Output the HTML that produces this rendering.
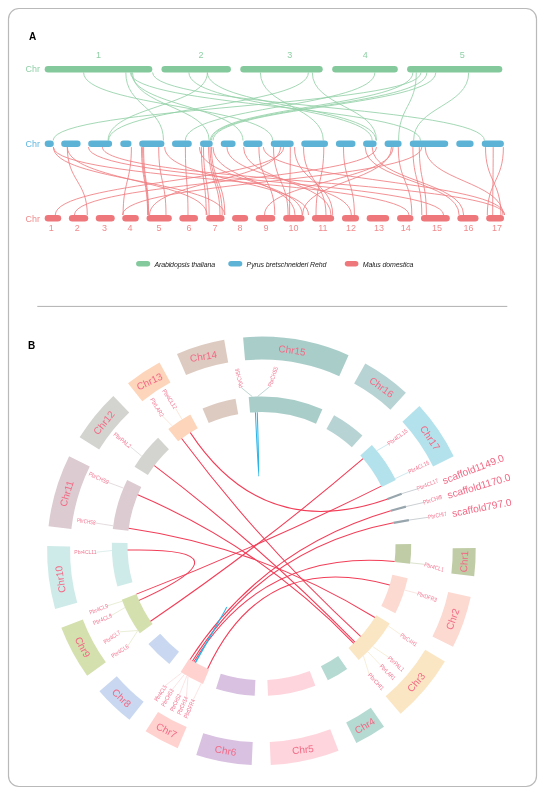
<!DOCTYPE html>
<html><head><meta charset="utf-8"><style>
html,body{margin:0;padding:0;background:#fff;width:550px;height:793px;overflow:hidden}
svg{display:block}
</style></head><body>
<svg width="550" height="793" viewBox="0 0 550 793">
<rect x="0" y="0" width="550" height="793" fill="#fff"/>
<rect x="8.5" y="8.5" width="528" height="778" rx="10.5" fill="#fff" stroke="#b9b9b9" stroke-width="1.2"/>
<text x="29" y="40.3" font-family='"Liberation Sans", Arial, sans-serif' font-size="10" font-weight="bold" fill="#000">A</text>
<text x="28" y="348.5" font-family='"Liberation Sans", Arial, sans-serif' font-size="10" font-weight="bold" fill="#000">B</text>
<line x1="37.3" y1="306.4" x2="507.3" y2="306.4" stroke="#b0b0b0" stroke-width="1"/>
<g fill="none" stroke="#93d1a8" stroke-width="0.85">
<path d="M83.6,72.5C83.6,106.5 272.7,106.5 272.7,140.5"/>
<path d="M125.8,72.5C125.8,106.5 163.5,106.5 163.5,140.5"/>
<path d="M130.4,72.5C130.4,106.5 420.5,106.5 420.5,140.5"/>
<path d="M131.5,72.5C131.5,106.5 243.0,106.5 243.0,140.5"/>
<path d="M132.5,72.5C132.5,106.5 209.2,106.5 209.2,140.5"/>
<path d="M152.6,72.5C152.6,106.5 484.5,106.5 484.5,140.5"/>
<path d="M188.9,72.5C188.9,106.5 372.2,106.5 372.2,140.5"/>
<path d="M207.4,72.5C207.4,106.5 108.1,106.5 108.1,140.5"/>
<path d="M207.4,72.5C207.4,106.5 376.0,106.5 376.0,140.5"/>
<path d="M260.4,72.5C260.4,106.5 323.3,106.5 323.3,140.5"/>
<path d="M308.4,72.5C308.4,106.5 108.6,106.5 108.6,140.5"/>
<path d="M312.3,72.5C312.3,106.5 376.5,106.5 376.5,140.5"/>
<path d="M374.9,72.5C374.9,106.5 185.3,106.5 185.3,140.5"/>
<path d="M412.9,72.5C412.9,106.5 210.3,106.5 210.3,140.5"/>
<path d="M416.3,72.5C416.3,106.5 398.6,106.5 398.6,140.5"/>
<path d="M426.9,72.5C426.9,106.5 211.4,106.5 211.4,140.5"/>
<path d="M435.8,72.5C435.8,106.5 213.0,106.5 213.0,140.5"/>
<path d="M468.7,72.5C468.7,106.5 413.6,106.5 413.6,140.5"/>
<path d="M421.0,72.5C421.0,106.5 53.1,106.5 53.1,140.5"/>
</g>
<g fill="none" stroke="#f07e82" stroke-width="0.85">
<path d="M67.3,147.1C67.3,181.1 87.3,181.1 87.3,215.0"/>
<path d="M131.4,147.1C131.4,181.1 123.1,181.1 123.1,215.0"/>
<path d="M141.5,147.1C141.5,181.1 147.6,181.1 147.6,215.0"/>
<path d="M142.6,147.1C142.6,181.1 148.1,181.1 148.1,215.0"/>
<path d="M143.6,147.1C143.6,181.1 148.6,181.1 148.6,215.0"/>
<path d="M158.7,147.1C158.7,181.1 166.0,181.1 166.0,215.0"/>
<path d="M185.4,147.1C185.4,181.1 188.0,181.1 188.0,215.0"/>
<path d="M201.4,147.1C201.4,181.1 206.2,181.1 206.2,215.0"/>
<path d="M203.5,147.1C203.5,181.1 209.1,181.1 209.1,215.0"/>
<path d="M208.6,147.1C208.6,181.1 220.0,181.1 220.0,215.0"/>
<path d="M210.1,147.1C210.1,181.1 222.2,181.1 222.2,215.0"/>
<path d="M211.5,147.1C211.5,181.1 224.8,181.1 224.8,215.0"/>
<path d="M258.9,147.1C258.9,181.1 274.8,181.1 274.8,215.0"/>
<path d="M273.5,147.1C273.5,181.1 288.1,181.1 288.1,215.0"/>
<path d="M290.3,147.1C290.3,181.1 289.6,181.1 289.6,215.0"/>
<path d="M323.8,147.1C323.8,181.1 316.0,181.1 316.0,215.0"/>
<path d="M343.5,147.1C343.5,181.1 354.4,181.1 354.4,215.0"/>
<path d="M398.3,147.1C398.3,181.1 411.8,181.1 411.8,215.0"/>
<path d="M412.9,147.1C412.9,181.1 421.8,181.1 421.8,215.0"/>
<path d="M419.3,147.1C419.3,181.1 426.4,181.1 426.4,215.0"/>
<path d="M485.5,147.1C485.5,181.1 500.9,181.1 500.9,215.0"/>
<path d="M493.2,147.1C493.2,181.1 492.7,181.1 492.7,215.0"/>
<path d="M503.4,147.1C503.4,181.1 487.3,181.1 487.3,215.0"/>
<path d="M53.4,147.1C53.4,181.1 224.5,181.1 224.5,215.0"/>
<path d="M53.4,147.1C53.4,181.1 409.0,181.1 409.0,215.0"/>
<path d="M67.4,147.1C67.4,181.1 207.0,181.1 207.0,215.0"/>
<path d="M88.4,147.1C88.4,181.1 443.6,181.1 443.6,215.0"/>
<path d="M102.4,147.1C102.4,181.1 504.5,181.1 504.5,215.0"/>
<path d="M213.0,147.1C213.0,181.1 295.0,181.1 295.0,215.0"/>
<path d="M227.0,147.1C227.0,181.1 351.3,181.1 351.3,215.0"/>
<path d="M243.6,147.1C243.6,181.1 331.0,181.1 331.0,215.0"/>
<path d="M263.4,147.1C263.4,181.1 504.5,181.1 504.5,215.0"/>
<path d="M303.5,147.1C303.5,181.1 326.0,181.1 326.0,215.0"/>
<path d="M365.2,147.1C365.2,181.1 459.1,181.1 459.1,215.0"/>
<path d="M372.2,147.1C372.2,181.1 463.6,181.1 463.6,215.0"/>
<path d="M294.5,147.1C294.5,181.1 332.7,181.1 332.7,215.0"/>
<path d="M199.5,147.1C199.5,181.1 302.2,181.1 302.2,215.0"/>
<path d="M164.7,147.1C164.7,181.1 308.5,181.1 308.5,215.0"/>
<path d="M283.7,147.1C283.7,181.1 55.3,181.1 55.3,215.0"/>
<path d="M376.5,147.1C376.5,181.1 74.4,181.1 74.4,215.0"/>
<path d="M421.8,147.1C421.8,181.1 122.5,181.1 122.5,215.0"/>
<path d="M280.5,147.1C280.5,181.1 149.5,181.1 149.5,215.0"/>
<path d="M393.0,147.1C393.0,181.1 264.5,181.1 264.5,215.0"/>
<path d="M391.5,147.1C391.5,181.1 302.5,181.1 302.5,215.0"/>
<path d="M425.2,147.1C425.2,181.1 503.0,181.1 503.0,215.0"/>
</g>
<rect x="44.7" y="65.9" width="107.6" height="6.6" rx="3.3" fill="#84c99c"/>
<rect x="161.5" y="65.9" width="69.4" height="6.6" rx="3.3" fill="#84c99c"/>
<rect x="240.3" y="65.9" width="82.4" height="6.6" rx="3.3" fill="#84c99c"/>
<rect x="332.2" y="65.9" width="65.6" height="6.6" rx="3.3" fill="#84c99c"/>
<rect x="407.1" y="65.9" width="95.2" height="6.6" rx="3.3" fill="#84c99c"/>
<rect x="44.7" y="140.5" width="9.1" height="6.6" rx="3.3" fill="#5db3d6"/>
<rect x="61.2" y="140.5" width="19.4" height="6.6" rx="3.3" fill="#5db3d6"/>
<rect x="88.2" y="140.5" width="23.9" height="6.6" rx="3.3" fill="#5db3d6"/>
<rect x="120.3" y="140.5" width="11.2" height="6.6" rx="3.3" fill="#5db3d6"/>
<rect x="139.2" y="140.5" width="25.2" height="6.6" rx="3.3" fill="#5db3d6"/>
<rect x="172.0" y="140.5" width="19.8" height="6.6" rx="3.3" fill="#5db3d6"/>
<rect x="200.0" y="140.5" width="12.7" height="6.6" rx="3.3" fill="#5db3d6"/>
<rect x="220.8" y="140.5" width="14.8" height="6.6" rx="3.3" fill="#5db3d6"/>
<rect x="243.2" y="140.5" width="19.3" height="6.6" rx="3.3" fill="#5db3d6"/>
<rect x="270.8" y="140.5" width="22.9" height="6.6" rx="3.3" fill="#5db3d6"/>
<rect x="301.3" y="140.5" width="26.7" height="6.6" rx="3.3" fill="#5db3d6"/>
<rect x="335.9" y="140.5" width="19.6" height="6.6" rx="3.3" fill="#5db3d6"/>
<rect x="363.1" y="140.5" width="13.5" height="6.6" rx="3.3" fill="#5db3d6"/>
<rect x="384.6" y="140.5" width="17.0" height="6.6" rx="3.3" fill="#5db3d6"/>
<rect x="409.8" y="140.5" width="38.4" height="6.6" rx="3.3" fill="#5db3d6"/>
<rect x="456.3" y="140.5" width="17.3" height="6.6" rx="3.3" fill="#5db3d6"/>
<rect x="481.8" y="140.5" width="22.1" height="6.6" rx="3.3" fill="#5db3d6"/>
<rect x="44.7" y="215.0" width="16.5" height="6.6" rx="3.3" fill="#ee777b"/>
<rect x="68.9" y="215.0" width="19.3" height="6.6" rx="3.3" fill="#ee777b"/>
<rect x="95.8" y="215.0" width="18.9" height="6.6" rx="3.3" fill="#ee777b"/>
<rect x="122.3" y="215.0" width="16.5" height="6.6" rx="3.3" fill="#ee777b"/>
<rect x="146.6" y="215.0" width="25.2" height="6.6" rx="3.3" fill="#ee777b"/>
<rect x="179.4" y="215.0" width="18.6" height="6.6" rx="3.3" fill="#ee777b"/>
<rect x="206.2" y="215.0" width="18.3" height="6.6" rx="3.3" fill="#ee777b"/>
<rect x="232.1" y="215.0" width="16.0" height="6.6" rx="3.3" fill="#ee777b"/>
<rect x="255.8" y="215.0" width="19.4" height="6.6" rx="3.3" fill="#ee777b"/>
<rect x="283.2" y="215.0" width="21.2" height="6.6" rx="3.3" fill="#ee777b"/>
<rect x="312.0" y="215.0" width="22.1" height="6.6" rx="3.3" fill="#ee777b"/>
<rect x="342.0" y="215.0" width="17.0" height="6.6" rx="3.3" fill="#ee777b"/>
<rect x="366.7" y="215.0" width="22.4" height="6.6" rx="3.3" fill="#ee777b"/>
<rect x="397.1" y="215.0" width="16.3" height="6.6" rx="3.3" fill="#ee777b"/>
<rect x="421.0" y="215.0" width="28.8" height="6.6" rx="3.3" fill="#ee777b"/>
<rect x="457.4" y="215.0" width="21.1" height="6.6" rx="3.3" fill="#ee777b"/>
<rect x="486.2" y="215.0" width="17.8" height="6.6" rx="3.3" fill="#ee777b"/>
<g font-family='"Liberation Sans", Arial, sans-serif' font-size="9.9">
<text x="25.6" y="72" fill="#8fd0a6" textLength="14.4" lengthAdjust="spacingAndGlyphs">Chr</text>
<text x="25.6" y="146.8" fill="#5cb6e0" textLength="14.4" lengthAdjust="spacingAndGlyphs">Chr</text>
<text x="25.6" y="221.5" fill="#f08a8c" textLength="14.4" lengthAdjust="spacingAndGlyphs">Chr</text>
</g>
<g font-family='"Liberation Sans", Arial, sans-serif' font-size="9" text-anchor="middle" fill="#8fd0a6">
<text x="98.4" y="58.4">1</text>
<text x="200.9" y="58.4">2</text>
<text x="289.7" y="58.4">3</text>
<text x="365.2" y="58.4">4</text>
<text x="462.3" y="58.4">5</text>
</g>
<g font-family='"Liberation Sans", Arial, sans-serif' font-size="9" text-anchor="middle" fill="#f08a8c">
<text x="51.3" y="231">1</text>
<text x="77.3" y="231">2</text>
<text x="104.5" y="231">3</text>
<text x="130" y="231">4</text>
<text x="159" y="231">5</text>
<text x="188.9" y="231">6</text>
<text x="215" y="231">7</text>
<text x="240" y="231">8</text>
<text x="266" y="231">9</text>
<text x="293.4" y="231">10</text>
<text x="322.9" y="231">11</text>
<text x="350.9" y="231">12</text>
<text x="378.9" y="231">13</text>
<text x="405.8" y="231">14</text>
<text x="437.1" y="231">15</text>
<text x="468.4" y="231">16</text>
<text x="496.9" y="231">17</text>
</g>
<rect x="136.1" y="261.1" width="14.1" height="5.5" rx="2.75" fill="#84c99c"/>
<rect x="228.3" y="261.1" width="14" height="5.5" rx="2.75" fill="#5db3d6"/>
<rect x="344.8" y="261.1" width="13.6" height="5.5" rx="2.75" fill="#ee777b"/>
<g font-family='"Liberation Sans", Arial, sans-serif' font-size="7" font-style="italic" fill="#222">
<text x="154.4" y="266.6" textLength="60.7">Arabidopsis thaliana</text>
<text x="246.6" y="266.6" textLength="79.9">Pyrus bretschneideri Rehd</text>
<text x="362.7" y="266.6" textLength="50.7">Malus domestica</text>
</g>
<path d="M475.68,547.91A214.3,214.3 0 0 1 474.19,576.27L451.35,573.55A191.3,191.3 0 0 0 452.68,548.23Z" fill="#c0cca6"/>
<path d="M411.19,544.01A149.7,149.7 0 0 1 410.15,563.83L394.56,561.97A134,134 0 0 0 395.49,544.23Z" fill="#c0cca6"/>
<text x="464.12" y="561.52" font-family='"Liberation Sans", Arial, sans-serif' font-size="10" fill="#f36985" text-anchor="middle" dominant-baseline="central" transform="rotate(-87.00 464.12 561.52)">Chr1</text>
<path d="M470.70,596.92A214.3,214.3 0 0 1 453.02,646.85L432.45,636.56A191.3,191.3 0 0 0 448.24,591.98Z" fill="#fcd9d1"/>
<path d="M407.71,578.25A149.7,149.7 0 0 1 395.35,613.13L381.32,606.10A134,134 0 0 0 392.37,574.87Z" fill="#fcd9d1"/>
<text x="452.58" y="619.16" font-family='"Liberation Sans", Arial, sans-serif' font-size="10" fill="#f36985" text-anchor="middle" dominant-baseline="central" transform="rotate(-70.35 452.58 619.16)">Chr2</text>
<path d="M444.90,661.59A214.3,214.3 0 0 1 400.58,713.85L385.64,696.37A191.3,191.3 0 0 0 425.20,649.71Z" fill="#fbe6c4"/>
<path d="M389.68,623.43A149.7,149.7 0 0 1 358.72,659.93L348.53,647.99A134,134 0 0 0 376.24,615.32Z" fill="#fbe6c4"/>
<text x="416.22" y="682.20" font-family='"Liberation Sans", Arial, sans-serif' font-size="10" fill="#f36985" text-anchor="middle" dominant-baseline="central" transform="rotate(-49.70 416.22 682.20)">Chr3</text>
<path d="M384.01,726.66A214.3,214.3 0 0 1 356.35,743.02L346.16,722.40A191.3,191.3 0 0 0 370.85,707.80Z" fill="#b5dad2"/>
<path d="M347.15,668.88A149.7,149.7 0 0 1 327.83,680.30L320.87,666.23A134,134 0 0 0 338.17,656.00Z" fill="#b5dad2"/>
<text x="364.74" y="725.63" font-family='"Liberation Sans", Arial, sans-serif' font-size="10" fill="#f36985" text-anchor="middle" dominant-baseline="central" transform="rotate(-30.60 364.74 725.63)">Chr4</text>
<path d="M338.55,750.83A214.3,214.3 0 0 1 270.75,765.00L269.74,742.02A191.3,191.3 0 0 0 330.27,729.37Z" fill="#ffd5dd"/>
<path d="M315.39,685.76A149.7,149.7 0 0 1 268.03,695.66L267.34,679.97A134,134 0 0 0 309.74,671.12Z" fill="#ffd5dd"/>
<text x="302.91" y="749.61" font-family='"Liberation Sans", Arial, sans-serif' font-size="10" fill="#f36985" text-anchor="middle" dominant-baseline="central" transform="rotate(-6.30 302.91 749.61)">Chr5</text>
<path d="M251.68,764.98A214.3,214.3 0 0 1 196.25,755.06L203.24,733.14A191.3,191.3 0 0 0 252.72,742.00Z" fill="#d9c1e1"/>
<path d="M254.71,695.65A149.7,149.7 0 0 1 215.99,688.71L220.76,673.76A134,134 0 0 0 255.42,679.96Z" fill="#d9c1e1"/>
<text x="225.63" y="750.72" font-family='"Liberation Sans", Arial, sans-serif' font-size="10" fill="#f36985" text-anchor="middle" dominant-baseline="central" transform="rotate(10.15 225.63 750.72)">Chr6</text>
<path d="M177.67,748.16A214.3,214.3 0 0 1 145.63,731.24L158.05,711.88A191.3,191.3 0 0 0 186.65,726.99Z" fill="#ffd2d0"/>
<path d="M203.01,683.90A149.7,149.7 0 0 1 180.63,672.07L189.11,658.86A134,134 0 0 0 209.14,669.45Z" fill="#ffd2d0"/>
<text x="166.57" y="730.39" font-family='"Liberation Sans", Arial, sans-serif' font-size="10" fill="#f36985" text-anchor="middle" dominant-baseline="central" transform="rotate(27.85 166.57 730.39)">Chr7</text>
<path d="M129.46,719.77A214.3,214.3 0 0 1 99.42,691.21L116.81,676.15A191.3,191.3 0 0 0 143.62,701.65Z" fill="#c9d8f0"/>
<path d="M169.34,664.07A149.7,149.7 0 0 1 148.35,644.11L160.22,633.84A134,134 0 0 0 179.00,651.69Z" fill="#c9d8f0"/>
<text x="121.54" y="698.03" font-family='"Liberation Sans", Arial, sans-serif' font-size="10" fill="#f36985" text-anchor="middle" dominant-baseline="central" transform="rotate(43.55 121.54 698.03)">Chr8</text>
<path d="M87.15,675.65A214.3,214.3 0 0 1 61.33,627.70L82.81,619.46A191.3,191.3 0 0 0 105.85,662.26Z" fill="#d4e0ae"/>
<path d="M139.78,633.24A149.7,149.7 0 0 1 121.74,599.75L136.40,594.12A134,134 0 0 0 152.54,624.10Z" fill="#d4e0ae"/>
<text x="82.66" y="647.14" font-family='"Liberation Sans", Arial, sans-serif' font-size="10" fill="#f36985" text-anchor="middle" dominant-baseline="central" transform="rotate(61.70 82.66 647.14)">Chr9</text>
<path d="M55.10,608.89A214.3,214.3 0 0 1 47.16,546.04L70.15,546.56A191.3,191.3 0 0 0 77.24,602.67Z" fill="#cfebe9"/>
<path d="M117.39,586.61A149.7,149.7 0 0 1 111.84,542.70L127.53,543.06A134,134 0 0 0 132.50,582.36Z" fill="#cfebe9"/>
<text x="60.40" y="579.33" font-family='"Liberation Sans", Arial, sans-serif' font-size="10" fill="#f36985" text-anchor="middle" dominant-baseline="central" transform="rotate(-98.05 60.40 579.33)">Chr10</text>
<path d="M48.52,526.27A214.3,214.3 0 0 1 69.12,456.29L89.75,466.44A191.3,191.3 0 0 0 71.37,528.91Z" fill="#dccbd0"/>
<path d="M112.79,528.89A149.7,149.7 0 0 1 127.18,480.01L141.27,486.94A134,134 0 0 0 128.39,530.70Z" fill="#dccbd0"/>
<text x="66.66" y="493.58" font-family='"Liberation Sans", Arial, sans-serif' font-size="10" fill="#f36985" text-anchor="middle" dominant-baseline="central" transform="rotate(-73.60 66.66 493.58)">Chr11</text>
<path d="M79.66,437.34A214.3,214.3 0 0 1 113.34,395.97L129.23,412.60A191.3,191.3 0 0 0 99.17,449.53Z" fill="#d3d4cf"/>
<path d="M134.55,466.77A149.7,149.7 0 0 1 158.07,437.87L168.92,449.22A134,134 0 0 0 147.86,475.09Z" fill="#d3d4cf"/>
<text x="103.97" y="422.74" font-family='"Liberation Sans", Arial, sans-serif' font-size="10" fill="#f36985" text-anchor="middle" dominant-baseline="central" transform="rotate(-50.85 103.97 422.74)">Chr12</text>
<path d="M128.00,383.19A214.3,214.3 0 0 1 159.47,362.39L170.41,382.62A191.3,191.3 0 0 0 142.31,401.19Z" fill="#fdd5bb"/>
<path d="M168.31,428.94A149.7,149.7 0 0 1 190.30,414.42L197.77,428.23A134,134 0 0 0 178.08,441.23Z" fill="#fdd5bb"/>
<text x="149.50" y="381.52" font-family='"Liberation Sans", Arial, sans-serif' font-size="10" fill="#f36985" text-anchor="middle" dominant-baseline="central" transform="rotate(-25.45 149.50 381.52)">Chr13</text>
<path d="M176.98,353.93A214.3,214.3 0 0 1 224.19,339.86L228.18,362.51A191.3,191.3 0 0 0 186.04,375.07Z" fill="#ddcbc1"/>
<path d="M202.53,408.51A149.7,149.7 0 0 1 235.50,398.67L238.23,414.14A134,134 0 0 0 208.71,422.94Z" fill="#ddcbc1"/>
<text x="203.41" y="356.36" font-family='"Liberation Sans", Arial, sans-serif' font-size="10" fill="#f36985" text-anchor="middle" dominant-baseline="central" transform="rotate(-9.10 203.41 356.36)">Chr14</text>
<path d="M243.10,337.38A214.3,214.3 0 0 1 348.56,355.13L339.21,376.14A191.3,191.3 0 0 0 245.06,360.30Z" fill="#a9cec9"/>
<path d="M248.71,396.95A149.7,149.7 0 0 1 322.39,409.34L316.00,423.68A134,134 0 0 0 250.05,412.59Z" fill="#a9cec9"/>
<text x="292.11" y="350.24" font-family='"Liberation Sans", Arial, sans-serif' font-size="10" fill="#f36985" text-anchor="middle" dominant-baseline="central" transform="rotate(8.70 292.11 350.24)">Chr15</text>
<path d="M365.29,363.47A214.3,214.3 0 0 1 405.90,392.65L390.39,409.63A191.3,191.3 0 0 0 354.14,383.59Z" fill="#b7d3d4"/>
<path d="M334.08,415.17A149.7,149.7 0 0 1 362.44,435.55L351.86,447.15A134,134 0 0 0 326.46,428.90Z" fill="#b7d3d4"/>
<text x="381.58" y="387.30" font-family='"Liberation Sans", Arial, sans-serif' font-size="10" fill="#f36985" text-anchor="middle" dominant-baseline="central" transform="rotate(36.30 381.58 387.30)">Chr16</text>
<path d="M419.40,406.12A214.3,214.3 0 0 1 453.68,456.29L433.05,466.44A191.3,191.3 0 0 0 402.44,421.66Z" fill="#b4e2ec"/>
<path d="M371.87,444.96A149.7,149.7 0 0 1 395.82,480.01L381.73,486.94A134,134 0 0 0 360.30,455.57Z" fill="#b4e2ec"/>
<text x="430.09" y="437.97" font-family='"Liberation Sans", Arial, sans-serif' font-size="10" fill="#f36985" text-anchor="middle" dominant-baseline="central" transform="rotate(56.20 430.09 437.97)">Chr17</text>
<line x1="387.01" y1="499.17" x2="401.72" y2="493.67" stroke="#97a5ad" stroke-width="2.2"/>
<line x1="390.75" y1="510.74" x2="405.89" y2="506.60" stroke="#97a5ad" stroke-width="2.2"/>
<line x1="393.46" y1="522.83" x2="408.93" y2="520.10" stroke="#97a5ad" stroke-width="2.2"/>
<line x1="241.4" y1="387.7" x2="252.4" y2="396.7" stroke="#a4c4bf" stroke-width="0.7"/>
<line x1="269.7" y1="386.6" x2="257.6" y2="396.5" stroke="#a4c4bf" stroke-width="0.7"/>
<line x1="388.1" y1="444.2" x2="376.8" y2="450.7" stroke="#b9dfe8" stroke-width="0.7"/>
<line x1="408.5" y1="472.3" x2="395.1" y2="478.6" stroke="#b9dfe8" stroke-width="0.7"/>
<line x1="417.0" y1="489.0" x2="401.7" y2="493.7" stroke="#b4bcc1" stroke-width="0.7"/>
<line x1="423.2" y1="502.6" x2="405.9" y2="506.6" stroke="#b4bcc1" stroke-width="0.7"/>
<line x1="428.1" y1="517.3" x2="408.9" y2="520.1" stroke="#b4bcc1" stroke-width="0.7"/>
<line x1="424.3" y1="564.3" x2="410.3" y2="562.8" stroke="#cbd5b8" stroke-width="0.7"/>
<line x1="417.4" y1="593.4" x2="404.6" y2="590.1" stroke="#f6ddd6" stroke-width="0.7"/>
<line x1="400.8" y1="634.7" x2="388.2" y2="625.9" stroke="#f3e6c8" stroke-width="0.7"/>
<line x1="388.7" y1="657.3" x2="372.6" y2="646.5" stroke="#f3e6c8" stroke-width="0.7"/>
<line x1="380.7" y1="665.3" x2="367.7" y2="651.6" stroke="#f3e6c8" stroke-width="0.7"/>
<line x1="369.1" y1="674.0" x2="363.4" y2="655.8" stroke="#f3e6c8" stroke-width="0.7"/>
<line x1="165.4" y1="685.5" x2="181.7" y2="672.8" stroke="#fbd9d8" stroke-width="0.7"/>
<line x1="172.4" y1="689.4" x2="184.4" y2="674.4" stroke="#fbd9d8" stroke-width="0.7"/>
<line x1="179.4" y1="694.5" x2="186.9" y2="675.9" stroke="#fbd9d8" stroke-width="0.7"/>
<line x1="186.4" y1="697.0" x2="188.0" y2="676.5" stroke="#fbd9d8" stroke-width="0.7"/>
<line x1="193.4" y1="699.5" x2="201.3" y2="683.2" stroke="#fbd9d8" stroke-width="0.7"/>
<line x1="107.9" y1="605.7" x2="122.3" y2="601.2" stroke="#dfe6c4" stroke-width="0.7"/>
<line x1="111.7" y1="615.3" x2="125.0" y2="607.5" stroke="#dfe6c4" stroke-width="0.7"/>
<line x1="120.0" y1="631.8" x2="137.8" y2="630.5" stroke="#dfe6c4" stroke-width="0.7"/>
<line x1="128.0" y1="645.8" x2="137.8" y2="630.5" stroke="#dfe6c4" stroke-width="0.7"/>
<line x1="96.5" y1="552.2" x2="111.9" y2="550.5" stroke="#cfe6e5" stroke-width="0.7"/>
<line x1="108.5" y1="482.5" x2="123.5" y2="488.1" stroke="#d9cdd1" stroke-width="0.7"/>
<line x1="95.5" y1="523.0" x2="113.2" y2="525.8" stroke="#d9cdd1" stroke-width="0.7"/>
<line x1="130.6" y1="446.9" x2="141.8" y2="456.2" stroke="#d6d6d2" stroke-width="0.7"/>
<line x1="162.5" y1="416.0" x2="172.2" y2="425.9" stroke="#f9dcc8" stroke-width="0.7"/>
<line x1="175.6" y1="408.4" x2="181.9" y2="419.3" stroke="#f9dcc8" stroke-width="0.7"/>
<g font-family='"Liberation Sans", Arial, sans-serif' font-size="6" fill="#f27590">
<text x="241.4" y="387.7" dominant-baseline="central" transform="rotate(-103.0 241.4 387.7)" textLength="19.6" lengthAdjust="spacingAndGlyphs">PbrCHS6</text>
<text x="269.7" y="386.6" dominant-baseline="central" transform="rotate(-71.4 269.7 386.6)" textLength="20.7" lengthAdjust="spacingAndGlyphs">PbrCHS5</text>
<text x="388.1" y="444.2" dominant-baseline="central" transform="rotate(-36.9 388.1 444.2)" textLength="23.5" lengthAdjust="spacingAndGlyphs">Pbr4CL15</text>
<text x="408.5" y="472.3" dominant-baseline="central" transform="rotate(-26.6 408.5 472.3)" textLength="22.8" lengthAdjust="spacingAndGlyphs">Pbr4CL16</text>
<text x="417.0" y="489.0" dominant-baseline="central" transform="rotate(-22.7 417.0 489.0)" textLength="22.8" lengthAdjust="spacingAndGlyphs">Pbr4CL17</text>
<text x="423.2" y="502.6" dominant-baseline="central" transform="rotate(-17.4 423.2 502.6)" textLength="19.7" lengthAdjust="spacingAndGlyphs">PbrCHI8</text>
<text x="428.1" y="517.3" dominant-baseline="central" transform="rotate(-11.1 428.1 517.3)" textLength="18.7" lengthAdjust="spacingAndGlyphs">PbrCHI7</text>
<text x="424.3" y="564.3" dominant-baseline="central" transform="rotate(16.1 424.3 564.3)" textLength="20.2" lengthAdjust="spacingAndGlyphs">Pbr4CL1</text>
<text x="417.4" y="593.4" dominant-baseline="central" transform="rotate(19.8 417.4 593.4)" textLength="20.6" lengthAdjust="spacingAndGlyphs">PbrDFR3</text>
<text x="400.8" y="634.7" dominant-baseline="central" transform="rotate(33.2 400.8 634.7)" textLength="18.6" lengthAdjust="spacingAndGlyphs">PbrC4H1</text>
<text x="388.7" y="657.3" dominant-baseline="central" transform="rotate(41.9 388.7 657.3)" textLength="19.6" lengthAdjust="spacingAndGlyphs">PbrPAL1</text>
<text x="380.7" y="665.3" dominant-baseline="central" transform="rotate(45.0 380.7 665.3)" textLength="19.5" lengthAdjust="spacingAndGlyphs">PbrLAR1</text>
<text x="369.1" y="674.0" dominant-baseline="central" transform="rotate(48.0 369.1 674.0)" textLength="20.6" lengthAdjust="spacingAndGlyphs">PbrCHI1</text>
<text x="155.8" y="700.8" dominant-baseline="central" transform="rotate(-57.9 155.8 700.8)" textLength="18.1" lengthAdjust="spacingAndGlyphs">Pbr4CL5</text>
<text x="162.8" y="705.9" dominant-baseline="central" transform="rotate(-59.8 162.8 705.9)" textLength="19.1" lengthAdjust="spacingAndGlyphs">PbrCHS3</text>
<text x="171.7" y="711.0" dominant-baseline="central" transform="rotate(-65.0 171.7 711.0)" textLength="18.2" lengthAdjust="spacingAndGlyphs">PbrCHS2</text>
<text x="178.7" y="714.2" dominant-baseline="central" transform="rotate(-65.9 178.7 714.2)" textLength="18.8" lengthAdjust="spacingAndGlyphs">PbrCHS4</text>
<text x="185.5" y="718.0" dominant-baseline="central" transform="rotate(-66.9 185.5 718.0)" textLength="20.1" lengthAdjust="spacingAndGlyphs">PbrDFR4</text>
<text x="89.5" y="612.7" dominant-baseline="central" transform="rotate(-20.8 89.5 612.7)" textLength="19.7" lengthAdjust="spacingAndGlyphs">Pbr4CL9</text>
<text x="93.3" y="623.5" dominant-baseline="central" transform="rotate(-24.0 93.3 623.5)" textLength="20.1" lengthAdjust="spacingAndGlyphs">Pbr4CL8</text>
<text x="104.1" y="642.6" dominant-baseline="central" transform="rotate(-34.2 104.1 642.6)" textLength="19.2" lengthAdjust="spacingAndGlyphs">Pbr4CL7</text>
<text x="112.0" y="656.7" dominant-baseline="central" transform="rotate(-34.3 112.0 656.7)" textLength="19.4" lengthAdjust="spacingAndGlyphs">Pbr4CL6</text>
<text x="74.3" y="552.2" dominant-baseline="central" transform="rotate(0.0 74.3 552.2)" textLength="22.2" lengthAdjust="spacingAndGlyphs">Pbr4CL11</text>
<text x="89.0" y="473.5" dominant-baseline="central" transform="rotate(24.8 89.0 473.5)" textLength="21.5" lengthAdjust="spacingAndGlyphs">PbrCHS9</text>
<text x="77.0" y="520.0" dominant-baseline="central" transform="rotate(9.2 77.0 520.0)" textLength="18.7" lengthAdjust="spacingAndGlyphs">PbrCHS8</text>
<text x="114.2" y="433.8" dominant-baseline="central" transform="rotate(38.6 114.2 433.8)" textLength="21.0" lengthAdjust="spacingAndGlyphs">PbrPAL2</text>
<text x="151.6" y="398.5" dominant-baseline="central" transform="rotate(58.1 151.6 398.5)" textLength="20.6" lengthAdjust="spacingAndGlyphs">PbrLAR2</text>
<text x="163.6" y="389.8" dominant-baseline="central" transform="rotate(57.2 163.6 389.8)" textLength="22.1" lengthAdjust="spacingAndGlyphs">Pbr4CL12</text>
</g>
<g font-family='"Liberation Sans", Arial, sans-serif' font-size="10.2" fill="#f36985">
<text x="442.7" y="481.0" dominant-baseline="central" transform="rotate(-21.1 442.7 481.0)">scaffold1149.0</text>
<text x="447.6" y="495.4" dominant-baseline="central" transform="rotate(-16.6 447.6 495.4)">scaffold1170.0</text>
<text x="452.1" y="513.5" dominant-baseline="central" transform="rotate(-11.1 452.1 513.5)">scaffold797.0</text>
</g>
<g fill="none" stroke="#f23d57" stroke-width="1.05">
<path d="M181.61,438.52Q261.93,545.71 360.61,636.28"/>
<path d="M190.29,432.59Q262.72,542.49 387.01,499.17"/>
<path d="M154.34,465.64Q261.19,546.45 354.92,642.17"/>
<path d="M137.70,494.82Q260.79,547.13 353.74,643.30"/>
<path d="M128.71,528.15Q261.06,547.30 374.89,617.51"/>
<path d="M127.56,550.08Q255.73,547.41 138.99,600.39"/>
<path d="M136.40,594.12Q261.38,545.83 381.32,486.10"/>
<path d="M150.54,621.23Q261.29,545.82 363.09,458.72"/>
<path d="M190.09,659.49Q262.80,547.86 390.75,510.74"/>
<path d="M192.48,660.96Q262.92,548.16 393.46,522.83"/>
<path d="M193.89,661.80Q262.97,549.05 394.61,561.50"/>
<path d="M207.64,668.80Q263.17,549.74 389.71,585.05"/>
</g>
<g fill="none" stroke="#2db4e6" stroke-width="1.05">
<path d="M255.42,412.24Q261.27,540.07 257.29,412.17"/>
<path d="M195.52,662.73Q258.52,551.34 195.11,662.50"/>
</g>
</svg>
</body></html>
